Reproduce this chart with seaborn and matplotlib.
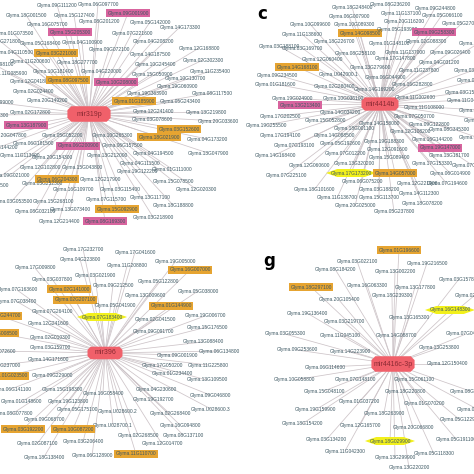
import numpy as np
import pandas as pd
import seaborn as sns
import matplotlib.pyplot as plt
from matplotlib.path import Path

sns.set_style("white")
plt.rcParams["font.family"] = ["Liberation Sans", "DejaVu Sans"]

# ---- panel a : mir319p ----
a_hub = ["mir319p", 89, 114]
a_genes = ["Glyma.09G111200", "Glyma.06G097700", "Glyma.18G001500", "Glyma.15G127400", "Glyma.09G001900",
           "Glyma.08G201200", "Glyma.05G142000", "Glyma.16G075700", "Glyma.14G173300", "Glyma.01G073500",
           "Glyma.15G205300", "Glyma.07G221600", "Glyma.20G271800", "Glyma.05G168400", "Glyma.04G100900",
           "Glyma.04G208200", "Glyma.04G110500", "Glyma.03G221000", "Glyma.09G072100", "Glyma.12G168800",
           "Glyma.14G187500", "Glyma.06G098100", "Glyma.11G200600", "Glyma.18G277700", "Glyma.10G245400",
           "Glyma.02G302300", "Glyma.11G085900", "Glyma.10G181400", "Glyma.04G220000", "Glyma.15G050900",
           "Glyma.11G235400", "Glyma.10G130700", "Glyma.12G041800", "Glyma.08G097500", "Glyma.10G208000",
           "Glyma.19G060900", "Glyma.02G024400", "Glyma.19G363900", "Glyma.08G117500", "Glyma.20G149200",
           "Glyma.01G185900", "Glyma.05G243400", "Glyma.16G099000", "Glyma.02G172800", "Glyma.12G241400",
           "Glyma.13G219800", "Glyma.04G205300", "Glyma.13G187900", "Glyma.03G078600", "Glyma.20G033600",
           "Glyma.03G152600", "Glyma.20G047800", "Glyma.05G052200", "Glyma.10G265300", "Glyma.18G021900",
           "Glyma.04G173200", "Glyma.07G144200", "Glyma.06G181500", "Glyma.06G200900", "Glyma.06G157500",
           "Glyma.11G113400", "Glyma.20G154300", "Glyma.13G212000", "Glyma.04G194500", "Glyma.13G047900",
           "Glyma.12G102800", "Glyma.15G043800", "Glyma.04G111500", "Glyma.01G111000", "Glyma.09G021000",
           "Glyma.19G122200", "Glyma.06G204300", "Glyma.12G217900", "Glyma.15G078500", "Glyma.02G016500",
           "Glyma.05G252300", "Glyma.16G109700", "Glyma.03G115400", "Glyma.12G020300", "Glyma.03G053500",
           "Glyma.15G268100", "Glyma.07G115700", "Glyma.13G117100", "Glyma.18G188800", "Glyma.13G073400",
           "Glyma.15G092900", "Glyma.08G032100", "Glyma.12G214400", "Glyma.08G169300", "Glyma.03G218900"]
a_x = [57, 98, 26, 74, 128, 99, 150, 47, 180, 13, 70, 132, 0, 40, 82, 153, 13, 56, 109, 199,
       150, -7, 30, 77, 155, 203, 7, 53, 101, 152, 210, 185, 30, 68, 116, 177, 33, 147, 212, 47,
       134, 180, -7, 30, 153, 206, -12, 26, 152, 218, 179, 6, 62, 112, 159, 207, -3, 33, 78, 122,
       20, 52, 107, 153, 208, 40, 82, 140, 172, 9, 137, 57, 100, 173, -12, 42, 73, 120, 196, 12,
       53, 106, 150, 173, 70, 117, 35, 59, 105, 153]
a_y = [5, 4, 15, 15, 13, 21, 22, 24, 27, 33, 32, 33, 41, 43, 42, 41, 52, 53, 49, 48,
       54, 64, 61, 62, 64, 60, 73, 71, 71, 74, 71, 78, 81, 80, 82, 86, 91, 93, 93, 100,
       101, 101, 102, 112, 111, 112, 115, 125, 119, 121, 129, 136, 136, 135, 137, 139, 148, 144, 146, 146,
       156, 157, 156, 154, 153, 167, 167, 164, 169, 176, 172, 179, 179, 181, 185, 184, 189, 189, 189, 201,
       201, 199, 197, 205, 210, 209, 212, 221, 221, 217]
a_orange = ["Glyma.03G221000", "Glyma.08G097500", "Glyma.01G185900", "Glyma.03G152600",
            "Glyma.18G021900", "Glyma.06G204300", "Glyma.15G092900"]
a_pink = ["Glyma.09G001900", "Glyma.15G205300", "Glyma.10G208000", "Glyma.13G187900",
          "Glyma.06G200900", "Glyma.08G169300"]
a_yellow = []

# ---- panel c : mir4414b ----
c_hub = ["mir4414b", 380, 104]
c_genes = ["Glyma.08G236200", "Glyma.18G248400", "Glyma.09G244800", "Glyma.11G137100", "Glyma.06G007900",
           "Glyma.05G066100", "Glyma.10G099600", "Glyma.10G089300", "Glyma.20G116200", "Glyma.05G270400",
           "Glyma.11G138600", "Glyma.14G098500", "Glyma.05G193900", "Glyma.09G258300", "Glyma.18G226700",
           "Glyma.01G148100", "Glyma.02G088300", "Glyma.12G041200", "Glyma.03G188100", "Glyma.03G169700",
           "Glyma.08G258100", "Glyma.11G137000", "Glyma.09G026400", "Glyma.12G060400", "Glyma.17G147800",
           "Glyma.04G031200", "Glyma.14G168100", "Glyma.13G279600", "Glyma.11G237800", "Glyma.03G210100",
           "Glyma.09G234500", "Glyma.U042000.1", "Glyma.06G044900", "Glyma.02G131300", "Glyma.01G181600",
           "Glyma.02G280400", "Glyma.16G282800", "Glyma.14G169200", "Glyma.03G153900", "Glyma.19G024900",
           "Glyma.10G036100", "Glyma.11G002600", "Glyma.11G041600", "Glyma.13G213400", "Glyma.11G108000",
           "Glyma.14G034200", "Glyma.17G202500", "Glyma.15G052800", "Glyma.07G050700", "Glyma.05G080200",
           "Glyma.19G255500", "Glyma.14G158000", "Glyma.09G122800", "Glyma.08G112700", "Glyma.18G001100",
           "Glyma.08G345300", "Glyma.17G194100", "Glyma.14G088500", "Glyma.12G108200", "Glyma.06G219300",
           "Glyma.19G188300", "Glyma.16G144200", "Glyma.07G193100", "Glyma.05G192600", "Glyma.19G147000",
           "Glyma.14G168400", "Glyma.07G012200", "Glyma.12G091600", "Glyma.13G181700", "Glyma.15G089400",
           "Glyma.12G060600", "Glyma.13G320200", "Glyma.17G153300", "Glyma.07G160400", "Glyma.07G225100",
           "Glyma.17G173200", "Glyma.14G057000", "Glyma.06G014900", "Glyma.06G075200", "Glyma.12G221900",
           "Glyma.07G194600", "Glyma.18G101600", "Glyma.03G188200", "Glyma.14G112300", "Glyma.11G136700",
           "Glyma.15G113700", "Glyma.18G078200", "Glyma.20G025000", "Glyma.05G237800"]
c_x = [390, 352, 435, 401, 349, 442, 310, 354, 404, 462, 302, 360, 397, 434, 334, 389, 426, 479, 279, 302,
       355, 405, 450, 322, 395, 439, 297, 370, 419, 474, 277, 339, 385, 477, 275, 334, 412, 374, 465, 292,
       343, 415, 467, 300, 424, 340, 280, 325, 414, 479, 266, 379, 429, 484, 354, 449, 280, 334, 410, 479,
       384, 432, 294, 340, 440, 275, 345, 387, 449, 389, 309, 354, 432, 472, 286, 351, 395, 450, 362, 417,
       447, 314, 379, 419, 337, 379, 422, 355, 394]
c_y = [4, 7, 8, 13, 16, 15, 24, 24, 21, 23, 34, 33, 29, 32, 41, 43, 41, 43, 46, 48,
       53, 52, 52, 59, 58, 62, 67, 67, 70, 70, 75, 74, 77, 80, 84, 86, 84, 89, 92, 98,
       98, 97, 100, 105, 107, 112, 116, 120, 116, 110, 125, 123, 124, 120, 128, 129, 136, 136, 132, 138,
       141, 140, 146, 144, 148, 155, 153, 150, 156, 157, 165, 164, 164, 165, 175, 173, 173, 173, 181, 183,
       184, 190, 190, 193, 198, 198, 203, 206, 212]
c_orange = ["Glyma.14G098500", "Glyma.14G168100", "Glyma.14G057000"]
c_pink = ["Glyma.09G258300", "Glyma.13G213400", "Glyma.19G147000"]
c_yellow = ["Glyma.17G173200"]

# ---- panel e : mir396 ----
e_hub = ["mir396", 105, 353]
e_genes = ["Glyma.17G232700", "Glyma.17G041600", "Glyma.04G223800", "Glyma.11G208800", "Glyma.19G005000",
           "Glyma.17G009800", "Glyma.16G007000", "Glyma.03G037800", "Glyma.03G021900", "Glyma.09G212500",
           "Glyma.05G122800", "Glyma.07G163600", "Glyma.02G141000", "Glyma.13G009600", "Glyma.05G038000",
           "Glyma.07G038400", "Glyma.02G207100", "Glyma.05G041900", "Glyma.01G144900", "Glyma.05G244700",
           "Glyma.07G264100", "Glyma.07G183400", "Glyma.02G041500", "Glyma.19G006700", "Glyma.12G241600",
           "Glyma.09G091700", "Glyma.15G176500", "Glyma.10G008500", "Glyma.02G010300", "Glyma.13G088400",
           "Glyma.03G159700", "Glyma.17G072600", "Glyma.09G001900", "Glyma.06G134800", "Glyma.14G171600",
           "Glyma.02G237000", "Glyma.17G050200", "Glyma.11G225800", "Glyma.01G023500", "Glyma.09G229000",
           "Glyma.01G234400", "Glyma.13G109500", "Glyma.06G141100", "Glyma.15G198300", "Glyma.16G058400",
           "Glyma.04G230600", "Glyma.09G046800", "Glyma.01G148600", "Glyma.19G123800", "Glyma.19G192700",
           "Glyma.U028600.3", "Glyma.08G077800", "Glyma.05G175100", "Glyma.U028600.2", "Glyma.02G268400",
           "Glyma.09G068700", "Glyma.U028700.1", "Glyma.16G094800", "Glyma.03G192200", "Glyma.10G087200",
           "Glyma.02G268500", "Glyma.08G137100", "Glyma.02G087100", "Glyma.03G206400", "Glyma.12G014700",
           "Glyma.11G110700", "Glyma.18G138400", "Glyma.06G128900"]
e_x = [83, 135, 80, 127, 175, 35, 190, 52, 95, 113, 158, 17, 69, 145, 198, 16, 75, 115, 171, 0,
       52, 102, 155, 205, 48, 153, 207, -3, 50, 203, 50, -5, 177, 219, 48, 0, 162, 208, 7, 52,
       172, 207, 11, 62, 103, 156, 210, 21, 68, 153, 211, 12, 77, 118, 170, 44, 113, 180, 23, 73,
       138, 183, 37, 83, 162, 136, 44, 92]
e_y = [249, 252, 259, 266, 262, 268, 270, 279, 276, 285, 282, 290, 289, 295, 291, 301, 300, 305, 306, 316,
       311, 317, 319, 316, 324, 331, 327, 333, 337, 342, 348, 351, 355, 351, 360, 365, 366, 365, 376, 375,
       374, 380, 389, 390, 393, 390, 395, 402, 401, 399, 409, 414, 410, 411, 414, 419, 425, 425, 429, 429,
       435, 435, 444, 442, 444, 454, 457, 456]
e_orange = ["Glyma.16G007000", "Glyma.02G141000", "Glyma.02G207100", "Glyma.01G144900", "Glyma.05G244700",
            "Glyma.10G008500", "Glyma.01G023500", "Glyma.03G192200", "Glyma.10G087200", "Glyma.11G110700"]
e_pink = []
e_yellow = ["Glyma.07G183400"]

# ---- panel g : mir4416c-3p ----
g_hub = ["mir4416c-3p", 393, 364]
g_genes = ["Glyma.01G196600", "Glyma.03G022100", "Glyma.19G216500", "Glyma.08G184200", "Glyma.13G002200",
           "Glyma.03G157800", "Glyma.18G297100", "Glyma.16G063300", "Glyma.13G177800", "Glyma.18G239300",
           "Glyma.20G105400", "Glyma.02G118500", "Glyma.19G136400", "Glyma.16G148300", "Glyma.03G219700",
           "Glyma.13G165300", "Glyma.03G055300", "Glyma.11G045100", "Glyma.14G088700", "Glyma.07G045300",
           "Glyma.09G253600", "Glyma.14G223900", "Glyma.13G253800", "Glyma.06G114600", "Glyma.12G150400",
           "Glyma.10G058800", "Glyma.07G148100", "Glyma.15G061100", "Glyma.15G048100", "Glyma.18G220800",
           "Glyma.08G201300", "Glyma.01G037200", "Glyma.01G070200", "Glyma.19G159900", "Glyma.18G263900",
           "Glyma.04G109600", "Glyma.05G122900", "Glyma.18G154200", "Glyma.12G165700", "Glyma.20G066800",
           "Glyma.03G134200", "Glyma.18G029900", "Glyma.05G191100", "Glyma.11G042300", "Glyma.13G299900",
           "Glyma.05G118300", "Glyma.13G220200"]
g_x = [399, 357, 427, 335, 395, 459, 311, 367, 415, 392, 339, 475, 307, 450, 344, 409, 285, 340, 396, 466,
       297, 350, 439, 325, 447, 294, 355, 414, 324, 405, 470, 359, 424, 315, 384, 477, 460, 302, 360, 413,
       326, 390, 456, 345, 395, 434, 409]
g_y = [250, 261, 263, 269, 271, 279, 287, 285, 287, 296, 300, 295, 313, 310, 322, 318, 334, 335, 336, 334,
       350, 351, 348, 367, 364, 380, 380, 380, 391, 392, 391, 402, 404, 410, 413, 409, 420, 424, 425, 427,
       440, 441, 439, 451, 458, 454, 468]
g_orange = ["Glyma.01G196600", "Glyma.18G297100"]
g_pink = []
g_yellow = ["Glyma.16G148300", "Glyma.18G029900"]

panel_letters = ["c", "g"]
letter_x = [262, 269]
letter_y = [14, 261]

# styling
TXT = "#3d5863"
EDGE = "#cdc4c8"
ORANGE = "#e6a431"
PINK = "#d8649e"
YELLOW = "#f2f01c"
HUB = "#f0606a"

oct_path = Path([(-1, -0.18), (-1, 0.18), (-0.82, 0.36), (0.82, 0.36), (1, 0.18),
                 (1, -0.18), (0.82, -0.36), (-0.82, -0.36), (-1, -0.18)], closed=True)
dia_path = Path([(-1, 0), (-0.55, 0.16), (0.55, 0.16), (1, 0), (0.55, -0.16),
                 (-0.55, -0.16), (-1, 0)], closed=True)

fig = plt.figure(figsize=(4.74, 4.74), dpi=100)
ax = fig.add_axes([0, 0, 1, 1])
ax.set_xlim(0, 474)
ax.set_ylim(474, 0)
ax.axis("off")

panels = [
    (a_hub, a_genes, a_x, a_y, a_orange, a_pink, a_yellow, 42),
    (c_hub, c_genes, c_x, c_y, c_orange, c_pink, c_yellow, 36),
    (e_hub, e_genes, e_x, e_y, e_orange, e_pink, e_yellow, 34),
    (g_hub, g_genes, g_x, g_y, g_orange, g_pink, g_yellow, 42),
]

for hub, genes, xs, ys, orange, pink, yellow, hub_w in panels:
    df = pd.DataFrame({"gene": genes, "x": xs, "y": ys})
    hname, hx, hy = hub
    # edges from the miRNA to every target
    for x, y in zip(df["x"], df["y"]):
        ax.plot([hx, x], [hy, y], color=EDGE, lw=0.55, zorder=1)
    # yellow diamond nodes
    ydf = df[df["gene"].isin(yellow)]
    if len(ydf):
        sns.scatterplot(data=ydf, x="x", y="y", marker=dia_path, s=(36) ** 2,
                        color=YELLOW, edgecolor="none", ax=ax, zorder=3, legend=False)
    # hub node
    sns.scatterplot(x=[hx], y=[hy], marker=oct_path, s=(hub_w * 0.74) ** 2,
                    color=HUB, edgecolor="none", ax=ax, zorder=4, legend=False)
    ax.text(hx, hy, hname, ha="center", va="center", fontsize=5, color="#8a2a33", zorder=5)
    for g, x, y in zip(df["gene"], df["x"], df["y"]):
        box = None
        if g in orange:
            box = dict(boxstyle="square,pad=0.25", fc=ORANGE, ec="none")
        elif g in pink:
            box = dict(boxstyle="square,pad=0.25", fc=PINK, ec="none")
        ax.text(x, y, g, ha="center", va="center", fontsize=3.5, color=TXT,
                bbox=box, zorder=5)

for t, x, y in zip(panel_letters, letter_x, letter_y):
    ax.text(x, y, t, ha="center", va="center", fontsize=12, fontweight="bold",
            color="black", family="DejaVu Sans")

fig.savefig("out.png", dpi=100, facecolor="white")
